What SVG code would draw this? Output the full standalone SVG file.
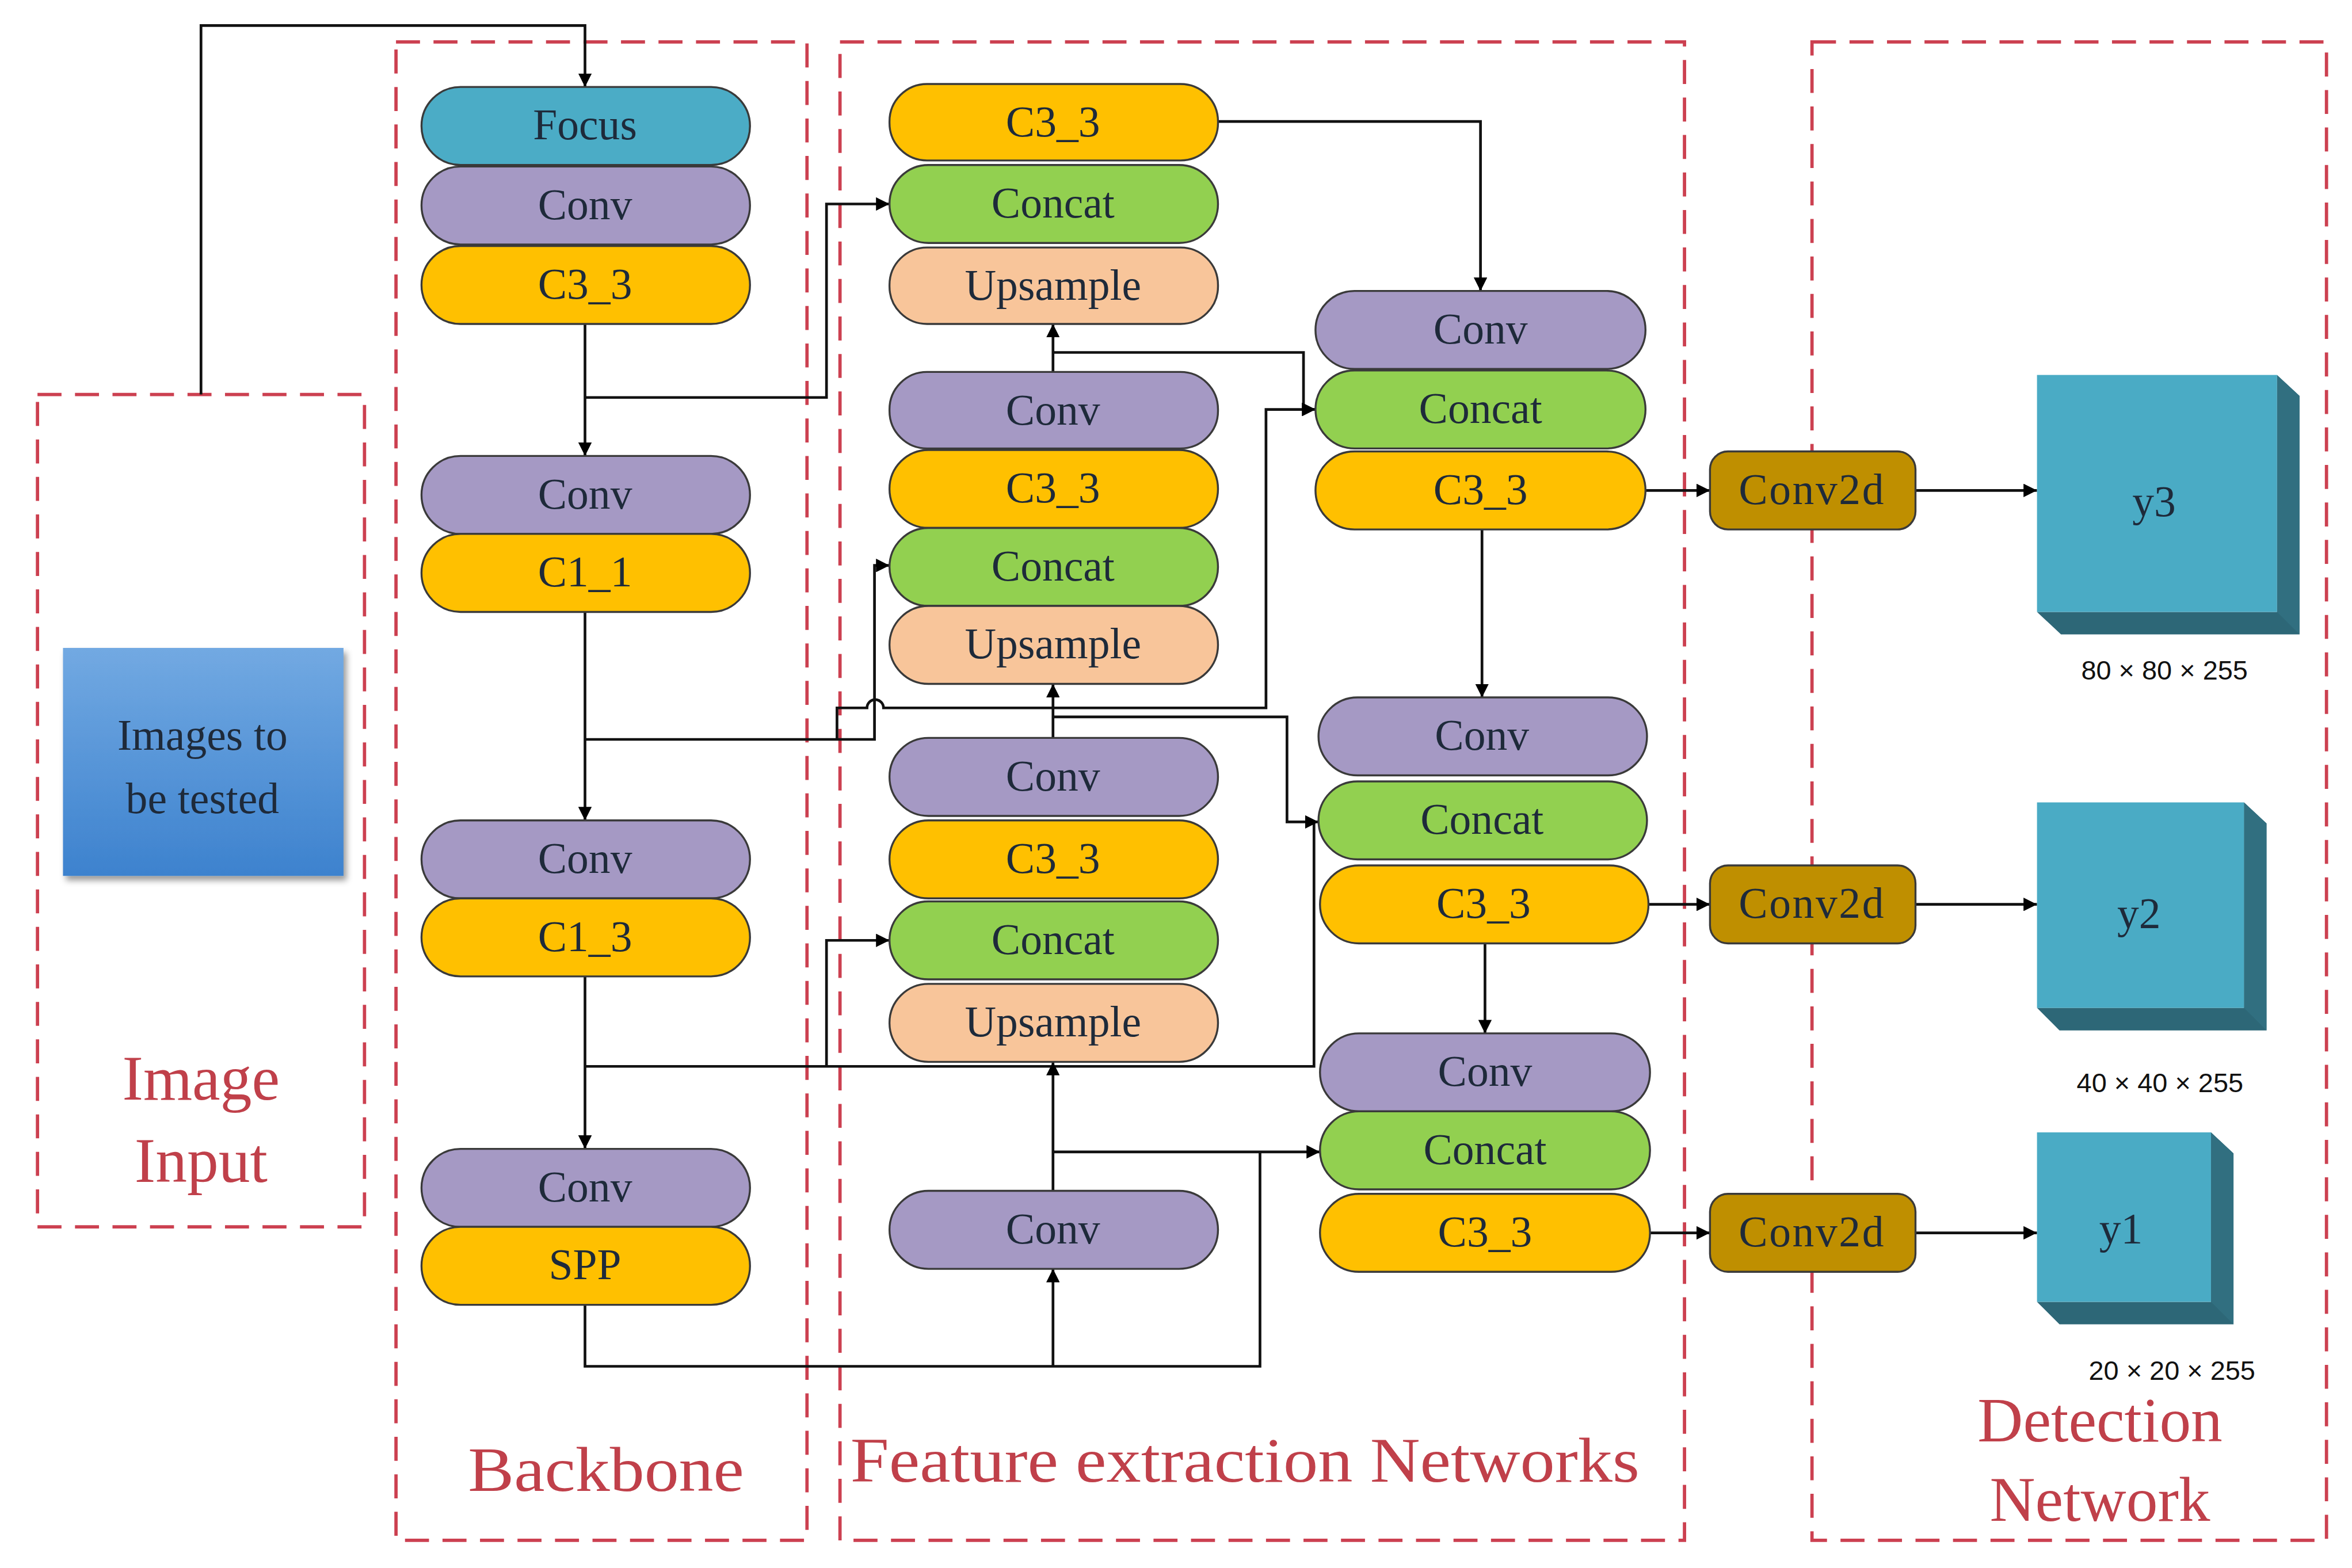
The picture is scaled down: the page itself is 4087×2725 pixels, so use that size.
<svg xmlns="http://www.w3.org/2000/svg" width="4087" height="2725" viewBox="0 0 4087 2725">
<style>
.n{stroke:#3a3a3a;stroke-width:1.3}
.conv{fill:#A599C4}.c3{fill:#FFC000}.cat{fill:#92D050}.up{fill:#F8C59A}.foc{fill:#4BACC6}.c2d{fill:#BF8F00}
.t{font-family:"Liberation Serif",serif;font-size:29px;text-anchor:middle;fill:#1e2a3a}
.dash{fill:none;stroke:#CC4050;stroke-width:2.2;stroke-dasharray:16 9}
.lbl{font-family:"Liberation Serif",serif;font-size:42px;text-anchor:middle;fill:#C0404A}
.w{fill:none;stroke:#111;stroke-width:1.8}
.dim{font-family:"Liberation Sans",sans-serif;font-size:18px;text-anchor:middle;fill:#111}
</style>
<defs>
<marker id="a" viewBox="0 0 10 10" refX="10" refY="5" markerWidth="9" markerHeight="9" markerUnits="userSpaceOnUse" orient="auto"><path d="M0,0L10,5L0,10z" fill="#000"/></marker>
<linearGradient id="bg" x1="0" y1="0" x2="0" y2="1"><stop offset="0" stop-color="#72A9E2"/><stop offset="1" stop-color="#3D82CE"/></linearGradient>
<filter id="sh"><feDropShadow dx="2" dy="3" stdDeviation="2" flood-opacity="0.4"/></filter>
</defs>
<rect width="4087" height="2725" fill="#fff"/>
<g transform="scale(2.6065)">
<g id="groups">
<rect class="dash" x="25" y="263" width="218" height="555"/>
<rect class="dash" x="264" y="28" width="274" height="999"/>
<rect class="dash" x="560" y="28" width="563" height="999"/>
<rect class="dash" x="1208" y="28" width="343" height="999"/>
<text class="lbl" x="134" y="733" font-size="38">Image</text>
<text class="lbl" x="134" y="788" font-size="38">Input</text>
<text class="lbl" x="404" y="994" textLength="184" lengthAdjust="spacingAndGlyphs">Backbone</text>
<text class="lbl" x="830" y="988" textLength="526" lengthAdjust="spacingAndGlyphs">Feature extraction Networks</text>
<text class="lbl" x="1400" y="961">Detection</text>
<text class="lbl" x="1400" y="1014">Network</text>
</g>
<g id="input"><rect x="42" y="432" width="187" height="152" fill="url(#bg)" filter="url(#sh)"/>
<text class="t" x="135" y="500" font-size="34" fill="#000">Images to</text><text class="t" x="135" y="542" font-size="34" fill="#000">be tested</text></g>
<g id="connectors" class="w">
<path d="M134,263V17H390V58" marker-end="url(#a)"/>
<path d="M390,216V304" marker-end="url(#a)"/>
<path d="M390,265H551V136H593" marker-end="url(#a)"/>
<path d="M390,408V547" marker-end="url(#a)"/>
<path d="M390,493H583V377H593" marker-end="url(#a)"/>
<path d="M558,493V472H578A5.5,5.5 0 0 1 589,472H844V273H877" marker-end="url(#a)"/>
<path d="M390,651V766" marker-end="url(#a)"/>
<path d="M390,711H876V548"/>
<path d="M551,711V627H593" marker-end="url(#a)"/>
<path d="M390,870V911H840V768"/>
<path d="M702,911V846" marker-end="url(#a)"/>
<path d="M702,794V708" marker-end="url(#a)"/>
<path d="M702,768H880" marker-end="url(#a)"/>
<path d="M702,492V456" marker-end="url(#a)"/>
<path d="M702,478H858V548H879" marker-end="url(#a)"/>
<path d="M702,248V216" marker-end="url(#a)"/>
<path d="M702,235H869V273H877" marker-end="url(#a)"/>
<path d="M812,81H987V194" marker-end="url(#a)"/>
<path d="M988,353V465" marker-end="url(#a)"/>
<path d="M990,629V689" marker-end="url(#a)"/>
<path d="M1097,327H1140" marker-end="url(#a)"/>
<path d="M1099,603H1140" marker-end="url(#a)"/>
<path d="M1100,822H1140" marker-end="url(#a)"/>
<path d="M1277,327H1358" marker-end="url(#a)"/>
<path d="M1277,603H1358" marker-end="url(#a)"/>
<path d="M1277,822H1358" marker-end="url(#a)"/>
</g>
<g id="backbone">
<g id="b1"><rect class="n foc" x="281" y="58" width="219" height="52" rx="26"/><text class="t" x="390" y="93">Focus</text></g>
<g id="b2"><rect class="n conv" x="281" y="111" width="219" height="52" rx="26"/><text class="t" x="390" y="146">Conv</text></g>
<g id="b3"><rect class="n c3" x="281" y="164" width="219" height="52" rx="26"/><text class="t" x="390" y="199">C3_3</text></g>
<g id="b4"><rect class="n conv" x="281" y="304" width="219" height="52" rx="26"/><text class="t" x="390" y="339">Conv</text></g>
<g id="b5"><rect class="n c3" x="281" y="356" width="219" height="52" rx="26"/><text class="t" x="390" y="391">C1_1</text></g>
<g id="b6"><rect class="n conv" x="281" y="547" width="219" height="52" rx="26"/><text class="t" x="390" y="582">Conv</text></g>
<g id="b7"><rect class="n c3" x="281" y="599" width="219" height="52" rx="26"/><text class="t" x="390" y="634">C1_3</text></g>
<g id="b8"><rect class="n conv" x="281" y="766" width="219" height="52" rx="26"/><text class="t" x="390" y="801">Conv</text></g>
<g id="b9"><rect class="n c3" x="281" y="818" width="219" height="52" rx="26"/><text class="t" x="390" y="853">SPP</text></g>
</g>
<g id="neck">
<g id="f1"><rect class="n c3" x="593" y="56" width="219" height="51" rx="25"/><text class="t" x="702" y="91">C3_3</text></g>
<g id="f2"><rect class="n cat" x="593" y="110" width="219" height="52" rx="26"/><text class="t" x="702" y="145">Concat</text></g>
<g id="f3"><rect class="n up" x="593" y="165" width="219" height="51" rx="25"/><text class="t" x="702" y="200">Upsample</text></g>
<g id="f4"><rect class="n conv" x="593" y="248" width="219" height="51" rx="25"/><text class="t" x="702" y="283">Conv</text></g>
<g id="f5"><rect class="n c3" x="593" y="300" width="219" height="52" rx="26"/><text class="t" x="702" y="335">C3_3</text></g>
<g id="f6"><rect class="n cat" x="593" y="352" width="219" height="52" rx="26"/><text class="t" x="702" y="387">Concat</text></g>
<g id="f7"><rect class="n up" x="593" y="404" width="219" height="52" rx="26"/><text class="t" x="702" y="439">Upsample</text></g>
<g id="f8"><rect class="n conv" x="593" y="492" width="219" height="52" rx="26"/><text class="t" x="702" y="527">Conv</text></g>
<g id="f9"><rect class="n c3" x="593" y="547" width="219" height="52" rx="26"/><text class="t" x="702" y="582">C3_3</text></g>
<g id="f10"><rect class="n cat" x="593" y="601" width="219" height="52" rx="26"/><text class="t" x="702" y="636">Concat</text></g>
<g id="f11"><rect class="n up" x="593" y="656" width="219" height="52" rx="26"/><text class="t" x="702" y="691">Upsample</text></g>
<g id="f12"><rect class="n conv" x="593" y="794" width="219" height="52" rx="26"/><text class="t" x="702" y="829">Conv</text></g>
<g id="h1"><rect class="n conv" x="877" y="194" width="220" height="52" rx="26"/><text class="t" x="987" y="229">Conv</text></g>
<g id="h2"><rect class="n cat" x="877" y="247" width="220" height="52" rx="26"/><text class="t" x="987" y="282">Concat</text></g>
<g id="h3"><rect class="n c3" x="877" y="301" width="220" height="52" rx="26"/><text class="t" x="987" y="336">C3_3</text></g>
<g id="h4"><rect class="n conv" x="879" y="465" width="219" height="52" rx="26"/><text class="t" x="988" y="500">Conv</text></g>
<g id="h5"><rect class="n cat" x="879" y="521" width="219" height="52" rx="26"/><text class="t" x="988" y="556">Concat</text></g>
<g id="h6"><rect class="n c3" x="880" y="577" width="219" height="52" rx="26"/><text class="t" x="989" y="612">C3_3</text></g>
<g id="h7"><rect class="n conv" x="880" y="689" width="220" height="52" rx="26"/><text class="t" x="990" y="724">Conv</text></g>
<g id="h8"><rect class="n cat" x="880" y="741" width="220" height="52" rx="26"/><text class="t" x="990" y="776">Concat</text></g>
<g id="h9"><rect class="n c3" x="880" y="796" width="220" height="52" rx="26"/><text class="t" x="990" y="831">C3_3</text></g>
</g>
<g id="detect">
<g id="d1"><rect class="n c2d" x="1140" y="301" width="137" height="52" rx="12"/><text class="t" x="1208" y="336" letter-spacing="1">Conv2d</text></g>
<g id="d2"><rect class="n c2d" x="1140" y="577" width="137" height="52" rx="12"/><text class="t" x="1208" y="612" letter-spacing="1">Conv2d</text></g>
<g id="d3"><rect class="n c2d" x="1140" y="796" width="137" height="52" rx="12"/><text class="t" x="1208" y="831" letter-spacing="1">Conv2d</text></g>
<g id="y3"><path d="M1518,250L1533,264V423H1374L1358,408H1518z" fill="#2D6777"/><path d="M1518,250L1533,264V423L1518,408z" fill="#316F80"/><rect x="1358" y="250" width="160" height="158" fill="#4AABC5"/><text class="t" x="1436" y="344" font-size="48" fill="#1d3a40">y3</text><text class="dim" x="1443" y="453">80 ×  80 × 255</text></g>
<g id="y2"><path d="M1496,535L1511,549V687H1373L1358,672H1496z" fill="#2D6777"/><path d="M1496,535L1511,549V687L1496,672z" fill="#316F80"/><rect x="1358" y="535" width="138" height="137" fill="#4AABC5"/><text class="t" x="1426" y="619" font-size="48" fill="#1d3a40">y2</text><text class="dim" x="1440" y="728">40 × 40 × 255</text></g>
<g id="y1"><path d="M1474,755L1489,769V883H1373L1358,868H1474z" fill="#2D6777"/><path d="M1474,755L1489,769V883L1474,868z" fill="#316F80"/><rect x="1358" y="755" width="116" height="113" fill="#4AABC5"/><text class="t" x="1414" y="829" font-size="48" fill="#1d3a40">y1</text><text class="dim" x="1448" y="920" font-size="15">20 × 20 × 255</text></g>
</g>
</g>
</svg>
